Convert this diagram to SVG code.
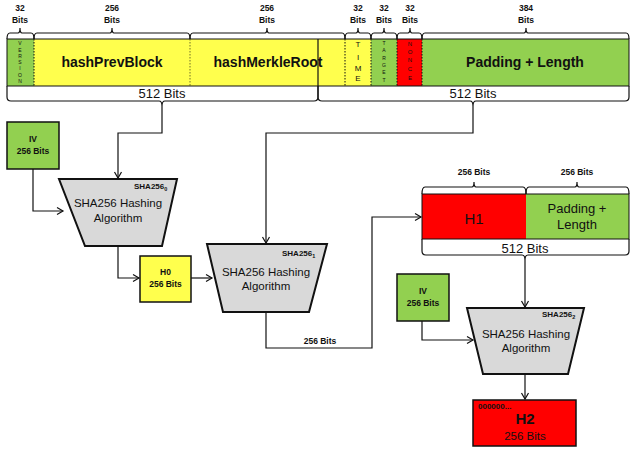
<svg xmlns="http://www.w3.org/2000/svg" width="640" height="452" viewBox="0 0 640 452">
<defs>
<style>
text{font-family:"Liberation Sans",Arial,sans-serif;fill:#111}
.b{font-weight:bold}
.c{text-anchor:middle}
.brace{fill:none;stroke:#111;stroke-width:1.2}
.conn{fill:none;stroke:#111;stroke-width:1.2}
.div{stroke:#111;stroke-width:1;stroke-dasharray:1.5 1.5}
.trap{fill:#d9d9d9;stroke:#111;stroke-width:2}
.box{stroke:#111;stroke-width:1.5}
.g{fill:#92d050}.y{fill:#ffff4d}.r{fill:#ff0000}
.lbl{font-size:8.5px;font-weight:bold;text-anchor:middle}
.vt{font-size:5px;text-anchor:middle}
</style>
<marker id="arr" markerWidth="10" markerHeight="10" refX="8" refY="5" orient="auto" markerUnits="userSpaceOnUse">
<path d="M2,1.5 L8,5 L2,8.5" fill="none" stroke="#111" stroke-width="1.2"/>
</marker>
</defs>

<g id="block-header">
<rect x="7" y="39" width="27" height="47" class="g"/>
<rect x="34" y="39" width="311" height="47" class="y"/>
<rect x="345" y="39" width="26" height="47" class="y"/>
<rect x="371" y="39" width="26" height="47" class="g"/>
<rect x="397" y="39" width="25" height="47" class="r"/>
<rect x="422" y="39" width="207" height="47" class="g"/>
<line x1="34" y1="39" x2="34" y2="86" class="div"/>
<line x1="190" y1="39" x2="190" y2="86" class="div" stroke-opacity="0.6"/>
<line x1="345" y1="39" x2="345" y2="86" class="div"/>
<line x1="371" y1="39" x2="371" y2="86" class="div"/>
<line x1="397" y1="39" x2="397" y2="86" class="div"/>
<line x1="422" y1="39" x2="422" y2="86" class="div"/>
<line x1="318" y1="39" x2="318" y2="86" stroke="#111" stroke-width="1.2"/>
<rect x="7" y="39" width="622" height="47" fill="none" stroke="#111" stroke-width="1"/>
<g class="vt">
<text x="20" y="45">V</text><text x="20" y="51.5">E</text><text x="20" y="58">R</text><text x="20" y="64">S</text><text x="20" y="70">I</text><text x="20" y="76.5">O</text><text x="20" y="83">N</text>
</g>
<g style="font-size:8px;text-anchor:middle">
<text x="358" y="47" fill="#333">T</text><text x="358" y="60" fill="#333">I</text><text x="358" y="71" fill="#333">M</text><text x="358" y="81" fill="#333">E</text>
</g>
<g class="vt">
<text x="384" y="45">T</text><text x="384" y="52">A</text><text x="384" y="59.5">R</text><text x="384" y="67">G</text><text x="384" y="74">E</text><text x="384" y="82">T</text>
</g>
<g style="font-size:6px;text-anchor:middle">
<text x="410" y="46" fill="#7a0000">N</text><text x="410" y="54" fill="#7a0000">O</text><text x="410" y="62" fill="#7a0000">N</text><text x="410" y="71" fill="#7a0000">C</text><text x="410" y="80" fill="#7a0000">E</text>
</g>
<text x="112" y="67" class="b c" font-size="14">hashPrevBlock</text>
<text x="268" y="67" class="b c" font-size="14">hashMerkleRoot</text>
<text x="525" y="67" class="b c" font-size="14">Padding + Length</text>
<!-- top braces -->
<path class="brace" d="M7,39 Q7,33 10,33 L18,33 Q20,33 20,28 Q20,33 22,33 L31,33 Q34,33 34,39"/>
<path class="brace" d="M34,39 Q34,33 37,33 L110,33 Q112,33 112,28 Q112,33 114,33 L187,33 Q190,33 190,39"/>
<path class="brace" d="M190,39 Q190,33 193,33 L265,33 Q267,33 267,28 Q267,33 269,33 L342,33 Q345,33 345,39"/>
<path class="brace" d="M345,39 Q345,33 348,33 L356,33 Q358,33 358,28 Q358,33 360,33 L368,33 Q371,33 371,39"/>
<path class="brace" d="M371,39 Q371,33 374,33 L382,33 Q384,33 384,28 Q384,33 386,33 L394,33 Q397,33 397,39"/>
<path class="brace" d="M397,39 Q397,33 400,33 L408,33 Q410,33 410,28 Q410,33 412,33 L419,33 Q422,33 422,39"/>
<path class="brace" d="M422,39 Q422,33 425,33 L524,33 Q526,33 526,28 Q526,33 528,33 L626,33 Q629,33 629,39"/>
<g class="lbl">
<text x="20" y="11">32</text><text x="20" y="23">Bits</text>
<text x="112" y="11">256</text><text x="112" y="23">Bits</text>
<text x="267" y="11">256</text><text x="267" y="23">Bits</text>
<text x="358" y="11">32</text><text x="358" y="23">Bits</text>
<text x="384" y="11">32</text><text x="384" y="23">Bits</text>
<text x="410" y="11">32</text><text x="410" y="23">Bits</text>
<text x="526" y="11">384</text><text x="526" y="23">Bits</text>
</g>
<!-- bottom braces -->
<path class="brace" d="M7,86 L7,97 Q7,101 11,101 L159,101 Q162,101 162,106 Q162,101 165,101 L314,101 Q318,101 318,97 L318,86"/>
<path class="brace" d="M318,86 L318,97 Q318,101 322,101 L470,101 Q473,101 473,106 Q473,101 476,101 L625,101 Q629,101 629,97 L629,86"/>
<text x="162" y="98" class="c" font-size="13">512 Bits</text>
<text x="473" y="98" class="c" font-size="13">512 Bits</text>
</g>

<g id="iv0">
<rect x="7" y="122" width="52" height="47" class="g box"/>
<text x="33" y="142" class="lbl">IV</text>
<text x="33" y="154" class="lbl">256 Bits</text>
</g>

<g id="sha0">
<polygon points="59,179 177,179 162,246 85,246" class="trap"/>
<text x="134" y="189" font-size="8" class="b">SHA256<tspan font-size="5.5" dy="2">0</tspan></text>
<text x="118" y="207" class="c" font-size="11.5">SHA256 Hashing</text>
<text x="118" y="222" class="c" font-size="11.5">Algorithm</text>
</g>

<g id="h0">
<rect x="140" y="256" width="51" height="46" class="y box"/>
<text x="165.5" y="275" class="lbl">H0</text>
<text x="165.5" y="287" class="lbl">256 Bits</text>
</g>

<g id="sha1">
<polygon points="207,244 327,244 309,312 223,312" class="trap"/>
<text x="282" y="256" font-size="8" class="b">SHA256<tspan font-size="5.5" dy="2">1</tspan></text>
<text x="266" y="276" class="c" font-size="11.5">SHA256 Hashing</text>
<text x="266" y="290" class="c" font-size="11.5">Algorithm</text>
</g>

<g id="block2">
<rect x="422" y="194" width="104" height="45" class="r"/>
<rect x="526" y="194" width="103" height="45" class="g"/>
<rect x="422" y="194" width="207" height="45" fill="none" stroke="#111" stroke-width="1"/>
<text x="474" y="224" class="c" font-size="15">H1</text>
<text x="577" y="213" class="c" font-size="13">Padding +</text>
<text x="577" y="229" class="c" font-size="13">Length</text>
<path class="brace" d="M422,194 Q422,187 425,187 L472,187 Q474,187 474,182 Q474,187 476,187 L523,187 Q526,187 526,194"/>
<path class="brace" d="M526,194 Q526,187 529,187 L575,187 Q577,187 577,182 Q577,187 579,187 L626,187 Q629,187 629,194"/>
<text x="474" y="175" class="lbl">256 Bits</text>
<text x="577" y="175" class="lbl">256 Bits</text>
<path class="brace" d="M422,239 L422,251 Q422,255 426,255 L522,255 Q525,255 525,260 Q525,255 528,255 L625,255 Q629,255 629,251 L629,239"/>
<text x="525" y="253" class="c" font-size="13">512 Bits</text>
</g>

<g id="iv2">
<rect x="397" y="274" width="52" height="47" class="g box"/>
<text x="423" y="294" class="lbl">IV</text>
<text x="423" y="306" class="lbl">256 Bits</text>
</g>

<g id="sha2">
<polygon points="467,308 584,308 568,374 483,374" class="trap"/>
<text x="542" y="317" font-size="8" class="b">SHA256<tspan font-size="5.5" dy="2">2</tspan></text>
<text x="526" y="338" class="c" font-size="11.5">SHA256 Hashing</text>
<text x="526" y="352" class="c" font-size="11.5">Algorithm</text>
</g>

<g id="h2">
<rect x="473" y="400" width="103" height="46" class="r box"/>
<text x="478" y="409" font-size="8" class="b">000000...</text>
<text x="525" y="424" class="c b" font-size="15">H2</text>
<text x="525" y="440" class="c" font-size="11.5">256 Bits</text>
</g>

<g id="connectors">
<path class="conn" d="M162,106 L162,133 L118,133 L118,178" marker-end="url(#arr)"/>
<path class="conn" d="M473,106 L473,133 L266,133 L266,243" marker-end="url(#arr)"/>
<path class="conn" d="M33,169 L33,211 L63,211" marker-end="url(#arr)"/>
<path class="conn" d="M118,246 L118,278 L139,278" marker-end="url(#arr)"/>
<path class="conn" d="M191,278 L212,278" marker-end="url(#arr)"/>
<path class="conn" d="M266,312 L266,348 L372,348 L372,217 L421,217" marker-end="url(#arr)"/>
<path class="conn" d="M525,260 L525,307" marker-end="url(#arr)"/>
<path class="conn" d="M422,321 L422,340 L473,340" marker-end="url(#arr)"/>
<path class="conn" d="M525,374 L525,399" marker-end="url(#arr)"/>
<text x="320" y="344" class="lbl">256 Bits</text>
</g>
</svg>
